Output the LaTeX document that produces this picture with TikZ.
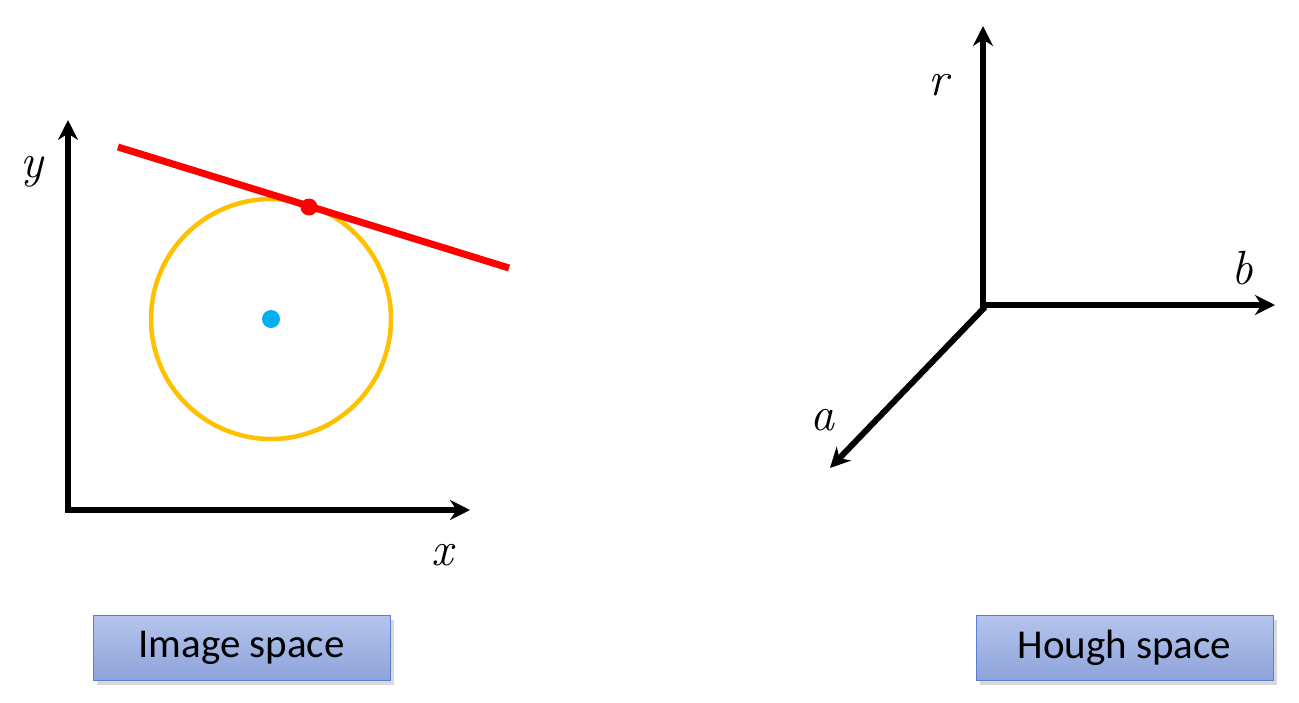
\documentclass[tikz,border=0pt]{standalone}
\usepackage{fontspec}
\setsansfont{Carlito}
\usetikzlibrary{arrows.meta,shadows}
\definecolor{circ}{HTML}{FFC000}
\definecolor{dotc}{HTML}{00B0F0}
\definecolor{boxtop}{HTML}{B4C4EC}
\definecolor{boxbot}{HTML}{8EA3DA}
\definecolor{boxline}{HTML}{5B7FD0}
\begin{document}
\begin{tikzpicture}[x=1pt,y=-1pt,
  axis/.style={line width=6pt,-{Stealth[length=20pt,width=20pt]}},
  lab/.style={font=\fontsize{48}{54}\selectfont\itshape},
  spacebox/.style={draw=boxline,line width=1pt,top color=boxtop,bottom color=boxbot,minimum width=297pt,minimum height=65pt,font=\sffamily\fontsize{41}{46}\selectfont,drop shadow={shadow xshift=4pt,shadow yshift=-4pt,opacity=0.3}}]
\useasboundingbox (0,0) rectangle (1299,702);
% image space
\coordinate (o1) at (68,510);
\coordinate (y1) at (68,120);
\coordinate (x1) at (470,510);
\draw[axis] ([yshift=3pt]o1) -- (y1);
\draw[axis] ([xshift=-3pt]o1) -- (x1);
\node[lab] (ly) at (32,172) {y};
\node[lab] (lx) at (442,555) {x};
\node[draw=circ,line width=4.5pt,circle,minimum size=240pt,inner sep=0pt] (circle) at (271,319) {};
\fill[dotc] (271,319) circle (9pt);
\coordinate (r1) at (118,147);
\coordinate (r2) at (509,268);
\draw[red,line width=7pt] (r1) -- (r2);
\fill[red] (309,207) circle (8.5pt);
\node[spacebox] (img) at (241.5,648) {Image space};
% hough space
\coordinate (o2) at (983,305);
\draw[axis] ([yshift=3pt]o2) -- (983,26);
\draw[axis] ([xshift=-3pt]o2) -- (1275,305);
\draw[axis] ([xshift=2pt,yshift=-2pt]o2) -- (830,468);
\node[lab] (lr) at (938,85) {r};
\node[lab] (lb) at (1242,268) {b};
\node[lab] (la) at (822,420) {a};
\node[spacebox] (hough) at (1124.5,648) {Hough space};
\end{tikzpicture}
\end{document}
